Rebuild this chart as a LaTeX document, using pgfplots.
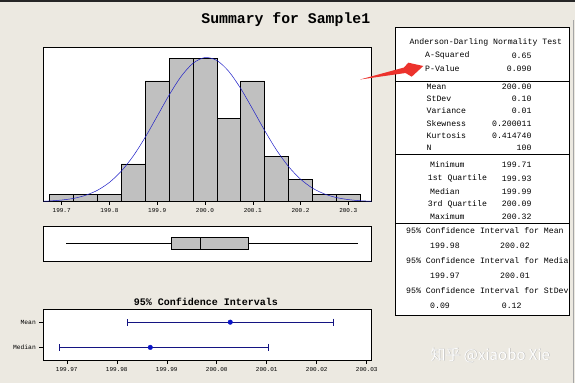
\documentclass[border=0pt]{standalone}
\usepackage{pgfplots}
\pgfplotsset{compat=1.18}
\usepgfplotslibrary{statistics}
\usepackage{fontspec}
\setmainfont{Liberation Sans}
\setmonofont{Liberation Mono}
\newfontfamily\cjk{Noto Sans CJK SC}

\definecolor{bgbeige}{RGB}{236,233,225}
\definecolor{bargray}{RGB}{192,192,192}
\definecolor{curveblue}{RGB}{30,30,200}
\definecolor{navyline}{RGB}{20,20,130}
\definecolor{dotblue}{RGB}{10,20,200}
\definecolor{arrowred}{RGB}{236,50,44}

\newcommand\tk{\ttfamily\fontsize{6bp}{7bp}\selectfont}
\newcommand\pan{\ttfamily\fontsize{8.2bp}{10bp}\selectfont}

\pgfplotsset{
  panel/.style={
    anchor=south west, scale only axis,
    axis background/.style={fill=white},
    axis line style={line width=0.8bp},
    tick style={black, line width=0.5bp},
    tick align=outside,
    ticklabel style={font=\tk},
  },
}

\begin{document}
\begin{tikzpicture}
\useasboundingbox (0,0) rectangle (575bp,-383bp);
\fill[bgbeige] (0,0) rectangle (575bp,-383bp);
\fill[black!85] (0,0) rectangle (575bp,-1.5bp);

\node[font=\ttfamily\bfseries\fontsize{14.8bp}{16bp}\selectfont] at (285.8bp,-20bp) {Summary for Sample1};

% histogram
\begin{axis}[panel,
  at={(43.3bp,-201.7bp)}, width=328.4bp, height=154.4bp,
  xmin=199.6615, xmax=200.349, ymin=0, ymax=20.45,
  ytick=\empty,
  xtick={199.7,199.8,199.9,200,200.1,200.2,200.3},
  xticklabels={199.7,199.8,199.9,200.0,200.1,200.2,200.3},
  xtick pos=bottom, major tick length=3bp,
]
\addplot[ybar interval, fill=bargray, draw=black, line width=0.7bp] coordinates {
  (199.675,1) (199.725,1) (199.775,1) (199.825,5) (199.875,16) (199.925,19)
  (199.975,19) (200.025,11) (200.075,16) (200.125,6) (200.175,3) (200.225,1)
  (200.275,1) (200.325,1)};
\addplot[curveblue, line width=0.5bp, smooth] coordinates {
  (199.650,0.04) (199.675,0.10) (199.700,0.22) (199.725,0.44) (199.750,0.85)
  (199.775,1.52) (199.800,2.56) (199.825,4.06) (199.850,6.07) (199.875,8.55)
  (199.900,11.33) (199.925,14.13) (199.950,16.59) (199.975,18.34) (200.000,19.09)
  (200.025,18.70) (200.050,17.24) (200.075,14.97) (200.100,12.24) (200.125,9.42)
  (200.150,6.82) (200.175,4.65) (200.200,2.99) (200.225,1.80) (200.250,1.03)
  (200.275,0.55) (200.300,0.28) (200.325,0.13) (200.350,0.06)};
\end{axis}

% boxplot
\begin{axis}[panel,
  at={(43.3bp,-261.7bp)}, width=328.4bp, height=35.7bp,
  xmin=199.6615, xmax=200.349, ymin=0, ymax=2,
  xtick=\empty, ytick=\empty,
]
\addplot[fill=bargray, draw=black, line width=0.8bp,
  boxplot prepared={draw position=1,
    lower whisker=199.71, lower quartile=199.93, median=199.99,
    upper quartile=200.09, upper whisker=200.32,
    box extend=0.67, whisker extend=0}] coordinates {};
\end{axis}

\node[font=\ttfamily\bfseries\fontsize{10bp}{12bp}\selectfont] at (205.8bp,-301.7bp) {95\% Confidence Intervals};

% confidence intervals
\begin{axis}[panel,
  at={(43.3bp,-360bp)}, width=328.4bp, height=50.7bp,
  xmin=199.9653, xmax=200.031, ymin=0.5, ymax=2.51,
  xtick={199.97,199.98,199.99,200.00,200.01,200.02,200.03},
  xticklabels={199.97,199.98,199.99,200.00,200.01,200.02,200.03},
  ytick={1,2}, yticklabels={Median,Mean},
  yticklabel style={font=\ttfamily\fontsize{6.3bp}{7bp}\selectfont},
  tick pos=left, major tick length=4bp,
]
\addplot[only marks, mark=*, mark size=2.3bp, mark options={fill=dotblue, draw=dotblue},
  error bars/.cd, x dir=both, x explicit,
  error bar style={navyline, line width=0.7bp},
  error mark=|,
  error mark options={navyline, line width=0.7bp, mark size=3.5bp}]
  coordinates {
  (200.0027,2) += (0.0206,0) -= (0.0206,0)
  (199.9867,1) += (0.0236,0) -= (0.0182,0)};
\end{axis}

% summary panel
\fill[white] (395bp,-27.5bp) rectangle (569bp,-315.7bp);
\begin{scope}
\clip (395bp,-27.5bp) rectangle (569bp,-315.7bp);
\begin{scope}[every node/.style={font=\pan, inner sep=0pt, text=black}]
\node[anchor=west] at (409.3bp,-42.7bp) {Anderson-Darling Normality Test};
\node[anchor=west] at (425bp,-55.7bp) {A-Squared};
\node[anchor=east] at (531.7bp,-55.7bp) {0.65};
\node[anchor=west] at (425bp,-69bp) {P-Value};
\node[anchor=east] at (531.7bp,-69bp) {0.090};
\node[anchor=west] at (426.5bp,-86.7bp) {Mean};
\node[anchor=east] at (531.7bp,-86.7bp) {200.00};
\node[anchor=west] at (426.5bp,-99bp) {StDev};
\node[anchor=east] at (531.7bp,-99bp) {0.10};
\node[anchor=west] at (426.5bp,-110.7bp) {Variance};
\node[anchor=east] at (531.7bp,-110.7bp) {0.01};
\node[anchor=west] at (426.5bp,-123.3bp) {Skewness};
\node[anchor=east] at (531.7bp,-123.3bp) {0.200011};
\node[anchor=west] at (426.5bp,-135.7bp) {Kurtosis};
\node[anchor=east] at (531.7bp,-135.7bp) {0.414740};
\node[anchor=west] at (426.5bp,-147.7bp) {N};
\node[anchor=east] at (531.7bp,-147.7bp) {100};
\node[anchor=west] at (430bp,-165bp) {Minimum};
\node[anchor=east] at (531.7bp,-165bp) {199.71};
\node[anchor=west] at (427.7bp,-178.3bp) {1st Quartile};
\node[anchor=east] at (531.7bp,-178.3bp) {199.93};
\node[anchor=west] at (430bp,-191.7bp) {Median};
\node[anchor=east] at (531.7bp,-191.7bp) {199.99};
\node[anchor=west] at (427.7bp,-204bp) {3rd Quartile};
\node[anchor=east] at (531.7bp,-204bp) {200.09};
\node[anchor=west] at (430bp,-216.7bp) {Maximum};
\node[anchor=east] at (531.7bp,-216.7bp) {200.32};
\node[anchor=west] at (406bp,-230.7bp) {95\% Confidence Interval for Mean};
\node[anchor=west] at (430bp,-246bp) {199.98};
\node[anchor=west] at (500bp,-246bp) {200.02};
\node[anchor=west] at (406bp,-260.7bp) {95\% Confidence Interval for Median};
\node[anchor=west] at (430bp,-276bp) {199.97};
\node[anchor=west] at (500bp,-276bp) {200.01};
\node[anchor=west] at (406bp,-290.7bp) {95\% Confidence Interval for StDev};
\node[anchor=west] at (430bp,-305.7bp) {0.09};
\node[anchor=west] at (501.7bp,-305.7bp) {0.12};
\end{scope}
\end{scope}
\draw[line width=0.8bp] (395bp,-27.5bp) rectangle (569bp,-315.7bp);
\draw[line width=0.8bp] (395bp,-81bp) -- (569bp,-81bp);
\draw[line width=0.8bp] (395bp,-154bp) -- (569bp,-154bp);
\draw[line width=0.8bp] (395bp,-223.3bp) -- (569bp,-223.3bp);
\draw[black!35, line width=0.6bp] (573bp,-20bp) -- (573bp,-383bp);

% red arrow
\fill[arrowred] (360bp,-79.5bp) -- (404bp,-67.5bp) -- (408.3bp,-62.7bp) -- (423.3bp,-66bp)
  -- (411.7bp,-76.7bp) -- (405.5bp,-73bp) -- cycle;

% watermark
\node[font=\cjk\fontsize{15bp}{17bp}\selectfont, text=black!30] at (490.8bp,-355.6bp) {知乎 @xiaobo Xie};
\node[font=\cjk\fontsize{15bp}{17bp}\selectfont, text=white] at (490.3bp,-355bp) {知乎 @xiaobo Xie};
\end{tikzpicture}
\end{document}
